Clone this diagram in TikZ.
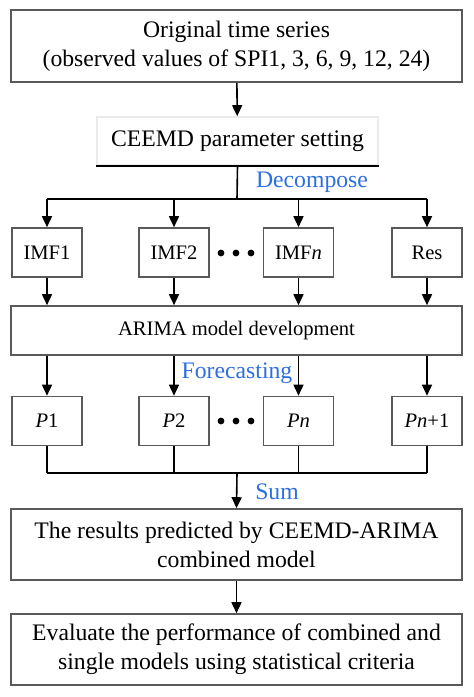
\documentclass[tikz,border=0pt]{standalone}
\usepackage{fontspec}
\setmainfont{Liberation Serif}
\usetikzlibrary{arrows.meta}

\begin{document}
\begin{tikzpicture}[x=0.5pt,y=-0.5pt,line width=0.8pt]
  % Key Colors
  \colorlet{boxcolor}  {black!65}
  \definecolor{stepcolor}{RGB}{45,110,225}

  % Styles
  \tikzset{
    box/.style={draw=boxcolor,fill=white,inner sep=0pt,align=center,
      font=\fontsize{11.85}{14.5}\selectfont},
    small box/.style={box,font=\fontsize{10.3}{12}\selectfont,
      minimum width=35pt,minimum height=24.5pt},
    flow/.style={-{Triangle[length=5.5pt,width=5pt]}},
    step text/.style={text=stepcolor,font=\fontsize{11.85}{14.5}\selectfont}
  }

  \useasboundingbox (0,0) rectangle (474,697);

  % Main boxes
  \node[box,minimum width=225.5pt,minimum height=36pt] (orig) at (236.5,46)
    {Original time series\\(observed values of SPI1, 3, 6, 9, 12, 24)};
  \node[box,draw=black!8,minimum width=140.5pt,minimum height=24pt] (ceemd) at (237.5,141)
    {CEEMD parameter setting};
  \draw (ceemd.south west) -- (ceemd.south east);

  % Decomposed parts
  \node[small box] (imf1) at (47,252.5)  {IMF1};
  \node[small box] (imf2) at (174,252.5) {IMF2};
  \node[small box] (imfn) at (298.5,252.5) {IMF\textit{n}};
  \node[small box] (res)  at (427,252.5) {Res};

  \node[box,font=\fontsize{10.3}{12}\selectfont,minimum width=225.5pt,minimum height=24.5pt]
    (arima) at (236.5,330.5) {ARIMA model development};

  % Forecasts
  \node[small box] (p1)    at (47,421)    {\textit{P}1};
  \node[small box] (p2)    at (174,421)   {\textit{P}2};
  \node[small box] (pn)    at (298.5,421) {\textit{Pn}};
  \node[small box] (pnext) at (427,421)   {\textit{Pn}+1};

  \node[box,minimum width=225.5pt,minimum height=35.5pt] (result) at (236.5,544.5)
    {The results predicted by CEEMD-ARIMA\\combined model};
  \node[box,minimum width=225.5pt,minimum height=35.5pt] (evaluate) at (236.5,649.5)
    {Evaluate the performance of combined and\\single models using statistical criteria};

  % Dots
  \foreach \x in {221,236,251}
    \fill (\x,253) circle (1.7pt) (\x,421) circle (1.7pt);

  % Connectors
  \coordinate (split) at (237,199);
  \coordinate (join)  at (237,473);

  \draw[flow] (orig) -- (ceemd);
  \draw (ceemd.south) -- (split);
  \draw (split -| imf1) -- (split -| res);
  \foreach \n in {imf1,imf2,imfn,res}
  {
    \draw[flow] (split -| \n) -- (\n.north);
    \draw[flow] (\n.south) -- (\n.south |- arima.north);
  }
  \foreach \p in {p1,p2,pn,pnext}
  {
    \draw[flow] (arima.south -| \p) -- (\p.north);
    \draw (\p.south) -- (join -| \p);
  }
  \draw (join -| p1) -- (join -| pnext);
  \draw[flow] (join) -- (result.north);
  \draw[flow] (result) -- (evaluate);

  % Step labels
  \node[step text] (decompose)   at (312,182) {Decompose};
  \node[step text] (forecasting) at (237,373) {Forecasting};
  \node[step text] (sum)         at (277,492) {Sum};
\end{tikzpicture}
\end{document}
